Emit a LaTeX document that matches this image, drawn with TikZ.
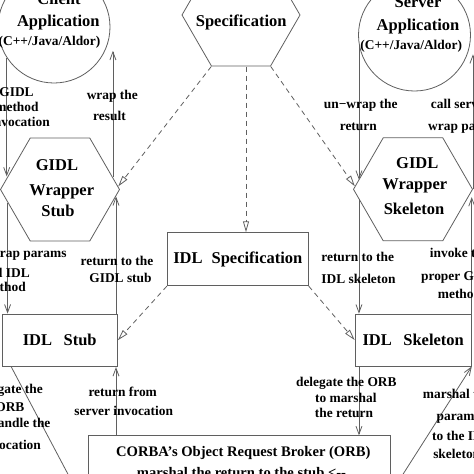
\documentclass[tikz,border=0pt]{standalone}
\usepackage{fontspec}
\setmainfont{Liberation Serif}
\usetikzlibrary{shapes.geometric,arrows.meta}
\definecolor{lc}{RGB}{95,95,95}
\newcommand{\fbig}{\fontsize{16.5}{20}\selectfont\bfseries}
\newcommand{\flab}{\fontsize{13.4}{16}\selectfont\bfseries}
\newcommand{\forb}{\fontsize{14.6}{18}\selectfont\bfseries}
\newcommand{\tline}[5]{\node[#1] (#2) at (#3,#4) {#5};}
\tikzset{
  ln/.style={draw=lc, line width=0.8pt},
  arr/.style={ln, -{Straight Barb[length=8pt,width=6pt]}},
  dsh/.style={ln, dash pattern=on 5pt off 4pt, -{Triangle[open,length=11pt,width=6pt]}},
  hexa/.style={ln, regular polygon, regular polygon sides=6, inner sep=0pt},
  circ/.style={ln, circle, inner sep=0pt},
  boxn/.style={ln, rectangle, inner sep=0pt, font=\fbig},
  big/.style={font=\fbig, inner sep=0pt, anchor=base},
  lab/.style={font=\flab, inner sep=0pt, anchor=base},
  labw/.style={font=\flab, inner sep=0pt, anchor=base west},
  labe/.style={font=\flab, inner sep=0pt, anchor=base east},
  orbt/.style={font=\forb, inner sep=0pt, anchor=base},
  orbw/.style={font=\forb, inner sep=0pt, anchor=base west}
}
\begin{document}
\begin{tikzpicture}[x=1pt,y=-1pt]
\useasboundingbox (0,0) rectangle (474,474);
\clip (0,0) rectangle (474,474);
% shapes
\node[circ, minimum size=112pt] (cli) at (54,27) {};
\node[circ, minimum size=112pt] (srv) at (414.5,35) {};
\node[hexa, minimum size=118pt] (spec) at (241,15) {};
\node[hexa, minimum size=119pt] (stub) at (60,189.5) {};
\node[hexa, minimum size=119pt] (skel) at (413,189.3) {};
\node[boxn, minimum width=141pt, minimum height=53pt] (idlspec) at (237.8,259.2) {IDL\hspace{9pt}Specification};
\node[boxn, minimum width=115.3pt, minimum height=52.7pt] (idlstub) at (59.7,340.3) {IDL\hspace{11.5pt}Stub};
\node[boxn, minimum width=116.3pt, minimum height=52pt] (idlskel) at (413.2,340) {IDL\hspace{11.5pt}Skeleton};
\node[ln, rectangle, inner sep=0pt, minimum width=301.7pt, minimum height=94.3pt] (orb) at (239.15,482.85) {};
% texts in shapes
\tline{big}{t1}{59}{4}{Client}
\tline{big}{t2}{58.3}{26.7}{Application}
\tline{lab}{t3}{49.5}{45}{(C++/Java/Aldor)}
\tline{big}{t4}{418}{7}{Server}
\tline{big}{t5}{418}{30}{Application}
\tline{lab}{t6}{411.2}{49}{(C++/Java/Aldor)}
\tline{big}{t7}{241.2}{26.7}{Specification}
\tline{big}{t8}{57}{170.7}{GIDL}
\tline{big}{t9}{61.7}{195.5}{Wrapper}
\tline{big}{t10}{58}{216.7}{Stub}
\tline{big}{t11}{417.3}{168.3}{GIDL}
\tline{big}{t12}{414.8}{189.8}{Wrapper}
\tline{big}{t13}{414}{214}{Skeleton}
\tline{orbt}{q1}{243.3}{456}{CORBA’s Object Request Broker (ORB)}
\tline{orbw}{q2}{136.7}{477.5}{marshal the return to the stub <\kern0pt-\kern0pt-}
% client side connectors
\draw[arr] (cli.213.5) -- (cli.213.5 |- stub.166.7);
\draw[arr] (stub.13.9) -- (stub.13.9 |- cli.-25);
\draw[arr] (stub.194) -- (stub.194 |- idlstub.north);
\draw[arr] (idlstub.north -| stub.-7) -- (stub.-7);
\draw[arr] (orb.north -| stub.-7) -- (idlstub.south -| stub.-7);
\draw[arr] ([xshift=9.7pt]idlstub.south west) -- ([yshift=-29pt]orb.west);
% server side connectors
\draw[arr] (srv.190) -- (srv.190 |- skel.170);
\draw[arr] (skel.east) -- (skel.east |- srv.-20);
\draw[arr] (idlskel.north east) -- (idlskel.north east |- skel.-8);
\draw[arr] (srv.190 |- skel.190.8) -- (srv.190 |- idlskel.north);
\draw[arr] (idlskel.south -| srv.190) -- (orb.north -| srv.190);
\draw[arr] ([yshift=-11.15pt]orb.east) -- (idlskel.south east);
% dashed
\coordinate (sm) at ([xshift=5pt]spec.south);
\draw[dsh] (spec.240) -- (stub.3);
\draw[dsh] (sm) -- (sm |- idlspec.north);
\draw[dsh] (spec.300) -- (skel.177);
\draw[dsh] (idlspec.south west) -- (idlstub.east);
\draw[dsh] (idlspec.south east) -- (idlskel.west);
% labels
\tline{lab}{a1}{16.5}{96.7}{GIDL}
\tline{lab}{a2}{17}{111.7}{method}
\tline{lab}{a3}{20}{126.7}{invocation}
\tline{lab}{b1}{112.3}{99}{wrap the}
\tline{lab}{b2}{109.5}{120.7}{result}
\tline{lab}{e1}{360.7}{108.3}{un−wrap the}
\tline{lab}{e2}{358.3}{130}{return}
\tline{labw}{f1}{430.7}{108.3}{call server}
\tline{labw}{f2}{428}{130}{wrap params}
\tline{lab}{g1}{117}{265}{return to the}
\tline{lab}{g2}{120.5}{282.7}{GIDL stub}
\tline{labe}{h1}{66.7}{257.3}{wrap params}
\tline{labe}{h2}{30}{277.3}{call IDL}
\tline{labe}{h3}{26}{291.7}{method}
\tline{lab}{i1}{357.7}{261.7}{return to the}
\tline{lab}{i2}{358.5}{283.3}{IDL skeleton}
\tline{lab}{j1}{459.5}{257.3}{invoke the}
\tline{lab}{j2}{459.5}{280.7}{proper GIDL}
\tline{lab}{j3}{459.5}{298.3}{method}
\tline{lab}{k1}{8.7}{393.3}{delegate the}
\tline{lab}{k2}{9.9}{411.7}{ORB}
\tline{lab}{k3}{13.2}{427.3}{to handle the}
\tline{lab}{k4}{11.1}{449.3}{invocation}
\tline{lab}{m1}{122.7}{396}{return from}
\tline{lab}{m2}{123.7}{415}{server invocation}
\tline{lab}{n1}{346.3}{386}{delegate the ORB}
\tline{lab}{n2}{345.8}{402.3}{to marshal}
\tline{lab}{n3}{344}{417.7}{the return}
\tline{lab}{p1}{457}{398.3}{marshal the}
\tline{lab}{p2}{458.2}{420.7}{params}
\tline{lab}{p3}{461.9}{440}{to the IDL}
\tline{lab}{p4}{456.7}{458.3}{skeleton}
\end{tikzpicture}
\end{document}
